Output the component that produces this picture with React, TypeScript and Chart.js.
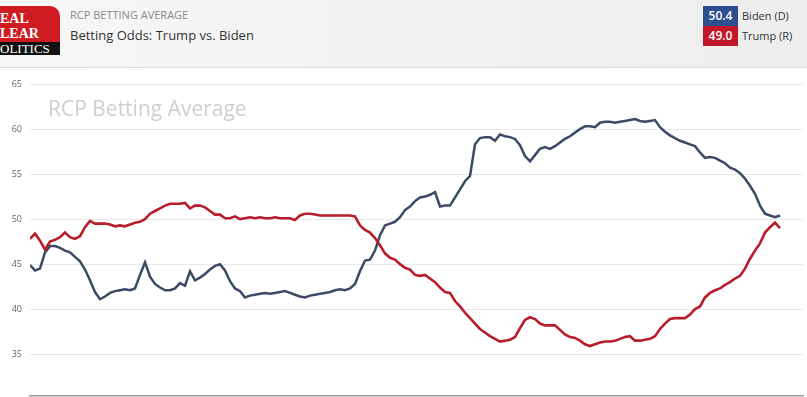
import React, { useEffect, useRef } from "react";
import { Chart, registerables } from "chart.js";

Chart.register(...registerables);

// Biden (D) betting average, sampled at equal steps across the period
const bidenValues = [
  44.9, 44.3, 44.5, 46.3, 47.0, 47.0, 46.8, 46.5, 46.3, 45.8, 45.3, 44.4, 43.2, 41.9, 41.1, 41.4, 41.8, 42.0, 42.1, 42.2,
  42.1, 42.3, 43.8, 45.2, 43.6, 42.8, 42.4, 42.1, 42.1, 42.3, 42.9, 42.6, 44.2, 43.2, 43.5, 43.9, 44.4, 44.8, 45.0, 44.3,
  43.1, 42.3, 42.0, 41.3, 41.5, 41.6, 41.7, 41.8, 41.7, 41.8, 41.9, 42.0, 41.8, 41.6, 41.4, 41.3, 41.5, 41.6, 41.7, 41.8,
  41.9, 42.1, 42.2, 42.1, 42.3, 42.8, 44.2, 45.4, 45.5, 46.5, 48.2, 49.3, 49.5, 49.7, 50.2, 51.0, 51.4, 52.0, 52.4, 52.5,
  52.7, 53.0, 51.4, 51.5, 51.5, 52.4, 53.3, 54.2, 54.8, 58.3, 59.0, 59.1, 59.1, 58.7, 59.4, 59.2, 59.1, 58.9, 58.2, 57.0,
  56.4, 57.1, 57.8, 58.0, 57.8, 58.1, 58.5, 58.9, 59.2, 59.6, 60.0, 60.3, 60.3, 60.2, 60.7, 60.8, 60.8, 60.7, 60.8, 60.9,
  61.0, 61.1, 60.9, 60.8, 60.9, 61.0, 60.2, 59.7, 59.3, 59.0, 58.7, 58.5, 58.3, 58.1, 57.4, 56.8, 56.9, 56.8, 56.5, 56.2,
  55.7, 55.5, 55.1, 54.5, 53.7, 52.8, 51.5, 50.6, 50.4, 50.2, 50.4,
];

// Trump (R) betting average
const trumpValues = [
  47.8, 48.4, 47.6, 46.6, 47.5, 47.7, 48.0, 48.5, 48.0, 47.8, 48.1, 49.1, 49.8, 49.5, 49.5, 49.5, 49.4, 49.2, 49.3, 49.2,
  49.4, 49.6, 49.7, 50.0, 50.6, 50.9, 51.2, 51.5, 51.7, 51.7, 51.7, 51.8, 51.2, 51.5, 51.5, 51.3, 50.9, 50.5, 50.5, 50.1,
  50.1, 50.3, 50.0, 50.1, 50.2, 50.1, 50.2, 50.1, 50.1, 50.2, 50.1, 50.1, 50.1, 49.9, 50.4, 50.6, 50.6, 50.5, 50.4, 50.4,
  50.4, 50.4, 50.4, 50.4, 50.4, 50.3, 49.3, 48.8, 48.5, 47.9, 47.1, 46.2, 45.7, 45.5, 45.0, 44.6, 44.4, 43.8, 43.7, 43.8,
  43.4, 43.0, 42.4, 41.9, 41.8, 40.9, 40.3, 39.6, 39.0, 38.4, 37.8, 37.4, 37.0, 36.7, 36.4, 36.5, 36.6, 36.9, 37.9, 38.8,
  39.1, 38.9, 38.4, 38.2, 38.2, 38.2, 37.7, 37.2, 36.9, 36.8, 36.5, 36.1, 35.9, 36.1, 36.3, 36.4, 36.4, 36.5, 36.7, 36.9,
  37.0, 36.5, 36.5, 36.6, 36.7, 37.0, 37.8, 38.4, 38.9, 39.0, 39.0, 39.0, 39.4, 40.0, 40.3, 41.3, 41.8, 42.1, 42.3, 42.7,
  43.0, 43.4, 43.7, 44.5, 45.6, 46.5, 47.3, 48.5, 49.1, 49.6, 49.0,
];

const yTicks = [35, 40, 45, 50, 55, 60, 65];
const seriesNames = ["Biden (D)", "Trump (R)"];
const latestValues = ["50.4", "49.0"];
const titleSmall = "RCP BETTING AVERAGE";
const titleMain = "Betting Odds: Trump vs. Biden";
const watermark = "RCP Betting Average";

const BLUE_LINE = "#3c4a66";
const RED_LINE = "#b81d2c";

const CANVAS_H = 341;

function ChartCanvas() {
  const ref = useRef<HTMLCanvasElement | null>(null);
  useEffect(() => {
    if (!ref.current) return;
    const toPts = (arr: number[]) => arr.map((v, i) => ({ x: i, y: v }));
    const chart = new Chart(ref.current, {
      type: "line",
      data: {
        datasets: [
          {
            label: seriesNames[1],
            data: toPts(trumpValues),
            borderColor: RED_LINE,
            borderWidth: 2.6,
            pointRadius: 0,
            tension: 0,
          },
          {
            label: seriesNames[0],
            data: toPts(bidenValues),
            borderColor: BLUE_LINE,
            borderWidth: 2.5,
            pointRadius: 0,
            tension: 0,
          },
        ],
      },
      options: {
        animation: false,
        responsive: false,
        maintainAspectRatio: false,
        layout: { padding: { top: 16, right: 4, bottom: 2, left: 0 } },
        plugins: { legend: { display: false }, tooltip: { enabled: false } },
        scales: {
          x: {
            type: "linear",
            min: 0,
            max: 154.6,
            afterFit: (scale: any) => {
              scale.height = 0;
            },
            ticks: { display: false },
            grid: { display: false, drawTicks: false },
            border: { display: true, color: "#9a9a9a", width: 1.5 },
          },
          y: {
            min: 30.4,
            max: 65,
            afterBuildTicks: (scale: any) => {
              scale.ticks = yTicks.map((v) => ({ value: v }));
            },
            afterFit: (scale: any) => {
              scale.width = 30;
            },
            ticks: {
              color: "#666",
              font: { family: "'Open Sans', sans-serif", size: 9 },
              padding: 8,
            },
            grid: { color: "#e8e8e8", lineWidth: 1, drawTicks: false },
            border: { display: false },
          },
        },
      },
    });
    return () => chart.destroy();
  }, []);
  return (
    <canvas
      ref={ref}
      width={807}
      height={CANVAS_H}
      style={{ display: "block", width: 807, height: CANVAS_H }}
    />
  );
}

export default function App() {
  const sans = "'Open Sans', 'Liberation Sans', sans-serif";
  return (
    <div
      style={{
        position: "fixed",
        left: 0,
        top: 0,
        width: 807,
        height: 397,
        overflow: "hidden",
        background: "#fff",
        fontFamily: sans,
      }}
    >
      {/* header */}
      <div
        style={{
          position: "absolute",
          left: 0,
          top: 0,
          width: 807,
          height: 67,
          background: "linear-gradient(to right, #f7f7f7, #ededed)",
          borderBottom: "1px solid #dcdcdc",
        }}
      >
        {/* logo */}
        <div
          style={{
            position: "absolute",
            left: 0,
            top: 6,
            width: 60,
            height: 36,
            background: "#cf1b22",
            borderTopRightRadius: 10,
            fontFamily: "'Liberation Serif', serif",
            color: "#fff",
            fontWeight: "bold",
            fontSize: 14,
            lineHeight: "14px",
          }}
        >
          <div style={{ position: "absolute", left: 0, top: 6 }}>EAL</div>
          <div style={{ position: "absolute", left: 0, top: 21 }}>LEAR</div>
        </div>
        <div
          style={{
            position: "absolute",
            left: 0,
            top: 42,
            width: 60,
            height: 13,
            background: "#111",
            color: "#fff",
            fontFamily: "'Liberation Serif', serif",
            fontSize: 13,
            lineHeight: "13px",
            whiteSpace: "nowrap",
          }}
        >
          OLITICS
        </div>
        <div style={{ position: "absolute", left: 70, top: 7, fontSize: 11, color: "#8a8a8a", whiteSpace: "nowrap" }}>
          {titleSmall}
        </div>
        <div style={{ position: "absolute", left: 70, top: 26, fontSize: 13, color: "#333", whiteSpace: "nowrap" }}>
          {titleMain}
        </div>
        {/* legend */}
        <div
          style={{
            position: "absolute",
            left: 703,
            top: 6,
            width: 35,
            height: 20,
            background: "#2d4f8f",
            color: "#fff",
            fontSize: 12,
            fontWeight: 600,
            textAlign: "center",
            lineHeight: "20px",
          }}
        >
          {latestValues[0]}
        </div>
        <div
          style={{
            position: "absolute",
            left: 703,
            top: 26,
            width: 35,
            height: 20,
            background: "#c3172a",
            color: "#fff",
            fontSize: 12,
            fontWeight: 600,
            textAlign: "center",
            lineHeight: "20px",
          }}
        >
          {latestValues[1]}
        </div>
        <div style={{ position: "absolute", left: 742, top: 6, fontSize: 11, lineHeight: "20px", color: "#333", whiteSpace: "nowrap" }}>
          {seriesNames[0]}
        </div>
        <div style={{ position: "absolute", left: 742, top: 26, fontSize: 11, lineHeight: "20px", color: "#333", whiteSpace: "nowrap" }}>
          {seriesNames[1]}
        </div>
      </div>
      {/* chart */}
      <div style={{ position: "absolute", left: 0, top: 68, width: 807, height: CANVAS_H }}>
        <ChartCanvas />
        <div
          style={{
            position: "absolute",
            left: 48,
            top: 26,
            fontSize: 21,
            color: "#cfcfcf",
            whiteSpace: "nowrap",
            pointerEvents: "none",
          }}
        >
          {watermark}
        </div>
      </div>
    </div>
  );
}
